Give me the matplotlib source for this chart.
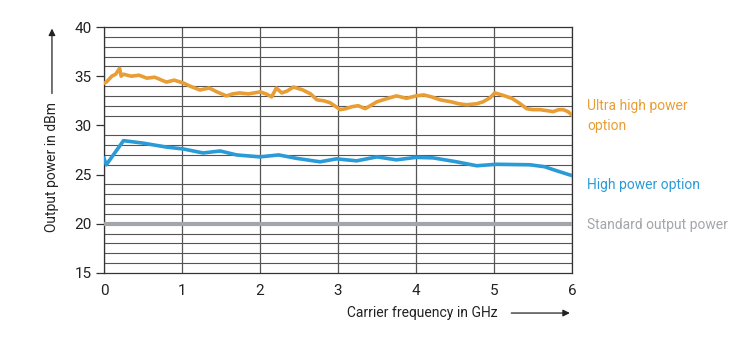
import matplotlib.pyplot as plt

# data
ultra_f = [0.0, 0.03, 0.1, 0.15, 0.2, 0.22, 0.25, 0.35, 0.45, 0.55, 0.65, 0.8, 0.9, 1.02, 1.1, 1.23, 1.35, 1.45, 1.57, 1.65, 1.74,
           1.85, 2.0, 2.08, 2.15, 2.21, 2.28, 2.35, 2.43, 2.55, 2.65, 2.73, 2.82, 2.9, 3.03, 3.1, 3.18, 3.26, 3.35, 3.5,
           3.62, 3.75, 3.88, 4.0, 4.1, 4.2, 4.31, 4.45, 4.55, 4.65, 4.78, 4.86, 4.95, 5.01, 5.1, 5.23, 5.32, 5.42,
           5.5, 5.59, 5.68, 5.76, 5.83, 5.89, 5.95, 6.0]
ultra_p = [34.3, 34.4, 35.0, 35.2, 35.8, 35.0, 35.2, 35.0, 35.1, 34.8, 34.9, 34.4, 34.6, 34.3, 34.0, 33.6, 33.8, 33.4, 33.0, 33.2, 33.3,
           33.2, 33.4, 33.2, 32.9, 33.8, 33.3, 33.5, 33.9, 33.6, 33.2, 32.6, 32.5, 32.3, 31.6, 31.7, 31.9, 32.0, 31.7, 32.4,
           32.7, 33.0, 32.75, 33.0, 33.1, 32.9, 32.6, 32.4, 32.2, 32.1, 32.2, 32.4, 32.8, 33.3, 33.1, 32.75, 32.3, 31.7,
           31.6, 31.6, 31.5, 31.4, 31.6, 31.6, 31.4, 31.05]

high_f = [0.0, 0.03, 0.25, 0.5, 0.8, 1.02, 1.27, 1.49, 1.7, 2.0, 2.24, 2.47, 2.77, 2.98, 3.24, 3.5, 3.75, 4.0, 4.22,
          4.52, 4.78, 5.03, 5.46, 5.65, 5.8, 6.0]
high_p = [26.65, 26.0, 28.45, 28.2, 27.8, 27.6, 27.2, 27.4, 27.0, 26.8, 27.0, 26.65, 26.3, 26.6, 26.4, 26.8, 26.5, 26.75, 26.7,
          26.3, 25.9, 26.05, 26.0, 25.8, 25.4, 24.9]

std_f = [0, 6]
std_p = [20, 20]

x_ticks = [0, 1, 2, 3, 4, 5, 6]
y_ticks = [15, 20, 25, 30, 35, 40]

orange = '#E89E34'
blue = '#2A9BD6'
gray = '#A2A6AA'

plt.rcParams['font.family'] = ['Roboto', 'DejaVu Sans']

fig = plt.figure(figsize=(7.37, 3.44), dpi=100)
ax = fig.add_axes([0.1411, 0.2064, 0.6349, 0.7151])

ax.plot(std_f, std_p, color=gray, lw=3, solid_capstyle='butt', zorder=3)
ax.plot(high_f, high_p, color=blue, lw=2.6, zorder=4)
ax.plot(ultra_f, ultra_p, color=orange, lw=2.6, zorder=4)

ax.set_xlim(0, 6)
ax.set_ylim(15, 40)
ax.set_xticks(x_ticks)
ax.set_yticks(y_ticks)
ax.set_yticks(range(15, 41), minor=True)
ax.grid(True, which='major', axis='x', color='#555555', lw=0.9)
ax.grid(True, which='minor', axis='y', color='#555555', lw=0.8)
ax.set_axisbelow(True)
for s in ax.spines.values():
    s.set_color('#333333')
    s.set_linewidth(0.9)
ax.tick_params(axis='y', which='major', length=6, width=0.9, color='#333333', labelsize=11, labelcolor='#222222', pad=3)
ax.tick_params(axis='y', which='minor', length=0)
ax.tick_params(axis='x', length=0, labelsize=11, labelcolor='#222222', pad=8)

# axis labels with arrows
fig.text(0.071, 0.515, 'Output power in dBm', rotation=90, ha='center', va='center', fontsize=10, color='#222222')
ax.annotate('', xy=(0.0705, 0.925), xytext=(0.0705, 0.72), xycoords='figure fraction',
            arrowprops=dict(arrowstyle='-|>', color='#222222', lw=0.9, mutation_scale=10))
fig.text(0.573, 0.09, 'Carrier frequency in GHz', ha='center', va='center', fontsize=10, color='#222222')
ax.annotate('', xy=(0.777, 0.09), xytext=(0.69, 0.09), xycoords='figure fraction',
            arrowprops=dict(arrowstyle='-|>', color='#222222', lw=0.9, mutation_scale=10))

# series labels
fig.text(0.797, 0.663, 'Ultra high power\noption', color=orange, fontsize=10, va='center', linespacing=1.6)
fig.text(0.797, 0.462, 'High power option', color=blue, fontsize=10, va='center')
fig.text(0.797, 0.345, 'Standard output power', color=gray, fontsize=10, va='center')

fig.savefig('out.png', dpi=100, facecolor='white')
